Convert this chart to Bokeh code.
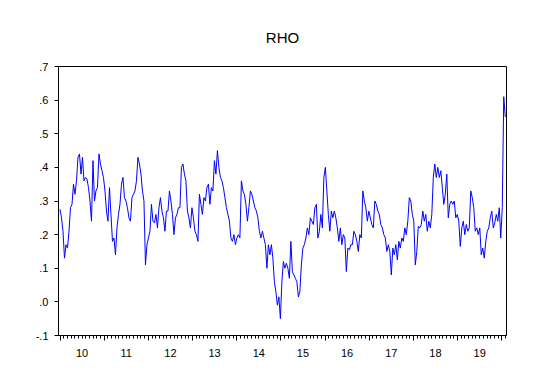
from bokeh.plotting import figure
from bokeh.models import FixedTicker, LinearAxis, Range1d
from bokeh.embed import file_html
from bokeh.resources import INLINE

title_text = "RHO"

rho = [
    0.275, 0.25, 0.21, 0.13, 0.17, 0.16, 0.21, 0.28, 0.29, 0.35,
    0.32, 0.36, 0.43, 0.44, 0.38, 0.43, 0.36, 0.37, 0.365, 0.34,
    0.30, 0.24, 0.42, 0.30, 0.33, 0.34, 0.44, 0.41, 0.39, 0.37,
    0.33, 0.27, 0.24, 0.34, 0.26, 0.18, 0.19, 0.14, 0.22, 0.26,
    0.29, 0.35, 0.37, 0.31, 0.30, 0.28, 0.25, 0.24, 0.31, 0.32,
    0.33, 0.36, 0.43, 0.41, 0.38, 0.33, 0.30, 0.11, 0.17, 0.19,
    0.21, 0.29, 0.24, 0.235, 0.26, 0.22, 0.28, 0.31, 0.27, 0.25,
    0.21, 0.27, 0.27, 0.33, 0.30, 0.26, 0.20, 0.25, 0.26, 0.28,
    0.28, 0.40, 0.41, 0.38, 0.36, 0.27, 0.25, 0.22, 0.28, 0.25,
    0.21, 0.20, 0.18, 0.32, 0.29, 0.26, 0.31, 0.30, 0.34, 0.35,
    0.29, 0.34, 0.33, 0.42, 0.38, 0.45, 0.40, 0.37, 0.36, 0.34,
    0.31, 0.28, 0.26, 0.24, 0.19, 0.18, 0.20, 0.17, 0.19, 0.20,
    0.19, 0.36, 0.33, 0.32, 0.29, 0.24, 0.28, 0.33, 0.32, 0.30,
    0.28, 0.27, 0.25, 0.21, 0.19, 0.21, 0.19, 0.17, 0.10, 0.17,
    0.14, 0.17, 0.13, 0.06, 0.03, -0.01, 0.015, -0.05, 0.06, 0.12,
    0.10, 0.115, 0.10, 0.07, 0.18, 0.09, 0.08, 0.07, 0.06, 0.015,
    0.03, 0.11, 0.16, 0.17, 0.19, 0.22, 0.20, 0.25, 0.24, 0.23,
    0.28, 0.29, 0.19, 0.21, 0.26, 0.22, 0.37, 0.40, 0.33, 0.26,
    0.21, 0.27, 0.25, 0.27, 0.25, 0.22, 0.18, 0.22, 0.17, 0.20,
    0.19, 0.09, 0.16, 0.155, 0.17, 0.17, 0.21, 0.20, 0.18, 0.15,
    0.20, 0.19, 0.33, 0.30, 0.28, 0.24, 0.27, 0.25, 0.23, 0.22,
    0.30, 0.29, 0.27, 0.26, 0.23, 0.22, 0.20, 0.19, 0.15, 0.17,
    0.15, 0.08, 0.16, 0.14, 0.17, 0.125, 0.18, 0.16, 0.19, 0.18,
    0.22, 0.20, 0.24, 0.31, 0.30, 0.26, 0.24, 0.11, 0.15, 0.225,
    0.22, 0.23, 0.27, 0.24, 0.26, 0.21, 0.24, 0.22, 0.26, 0.37,
    0.41, 0.37, 0.40, 0.37, 0.39, 0.34, 0.29, 0.32, 0.38, 0.25,
    0.29, 0.30, 0.29, 0.30, 0.25, 0.26, 0.24, 0.165, 0.22, 0.24,
    0.20, 0.23, 0.21, 0.22, 0.33, 0.31, 0.28, 0.21, 0.22, 0.20,
    0.22, 0.14, 0.16, 0.13, 0.18, 0.21, 0.22, 0.25, 0.27, 0.22,
    0.235, 0.26, 0.24, 0.28, 0.19, 0.28, 0.61, 0.55,
]

obs_start = 2010.0     # first observation (decimal year)
obs_end = 2020.08      # last observation (decimal year)

x_start = 2009.966
x_end = 2020.108

year_bounds = list(range(2010, 2021))
year_label_pos = [y + 0.5 for y in range(2010, 2020)]
year_labels = ["10", "11", "12", "13", "14", "15", "16", "17", "18", "19"]

y_ticks = [-0.1, 0.0, 0.1, 0.2, 0.3, 0.4, 0.5, 0.6, 0.7]
y_labels = ["-.1", ".0", ".1", ".2", ".3", ".4", ".5", ".6", ".7"]

n = len(rho)
step = (obs_end - obs_start) / (n - 1)
dates = [obs_start + i * step for i in range(n)]

month_ticks = [y + m / 12 for y in range(2010, 2021) for m in range(12) if y + m / 12 <= x_end]

FONT = "Liberation Sans"

p = figure(
    width=547, height=384,
    output_backend="svg", toolbar_location=None,
    x_range=Range1d(x_start, x_end), y_range=Range1d(-0.1, 0.7),
    x_axis_location=None, y_axis_location=None,
    min_border_left=58, min_border_right=41, min_border_top=66, min_border_bottom=49,
)
p.background_fill_color = "white"
p.border_fill_color = "white"
p.outline_line_color = "black"
p.outline_line_width = 1
p.xgrid.visible = False
p.ygrid.visible = False

p.title.text = title_text
p.title.align = "center"
p.title.text_font = FONT
p.title.text_font_size = "15px"
p.title.text_font_style = "normal"
p.title.text_color = "black"
p.title.standoff = 42

yaxis = LinearAxis(
    ticker=FixedTicker(ticks=y_ticks, minor_ticks=[]),
    major_label_overrides={t: lab for t, lab in zip(y_ticks, y_labels)},
    major_tick_out=4, major_tick_in=0,
    major_label_standoff=6,
    axis_line_color="black", major_tick_line_color="black",
    major_label_text_font=FONT, major_label_text_font_size="11px",
    major_label_text_color="black",
)
p.add_layout(yaxis, "left")

xaxis_ticks = LinearAxis(
    ticker=FixedTicker(ticks=year_bounds, minor_ticks=month_ticks),
    major_label_overrides={t: "" for t in year_bounds},
    major_tick_out=5, major_tick_in=0,
    minor_tick_out=3, minor_tick_in=0,
    major_label_standoff=0,
    major_label_text_font_size="0px",
    axis_line_color="black", major_tick_line_color="black", minor_tick_line_color="black",
)
p.add_layout(xaxis_ticks, "below")

xaxis_labels = LinearAxis(
    ticker=FixedTicker(ticks=year_label_pos, minor_ticks=[]),
    major_label_overrides={t: lab for t, lab in zip(year_label_pos, year_labels)},
    major_tick_out=0, major_tick_in=0,
    major_label_standoff=8,
    axis_line_color=None, major_tick_line_color=None, minor_tick_line_color=None,
    major_label_text_font=FONT, major_label_text_font_size="11px",
    major_label_text_color="black",
)
p.add_layout(xaxis_labels, "below")

p.line(dates, rho, line_color="#0000FF", line_width=1)

open("out.html", "w").write(file_html(p, INLINE))
